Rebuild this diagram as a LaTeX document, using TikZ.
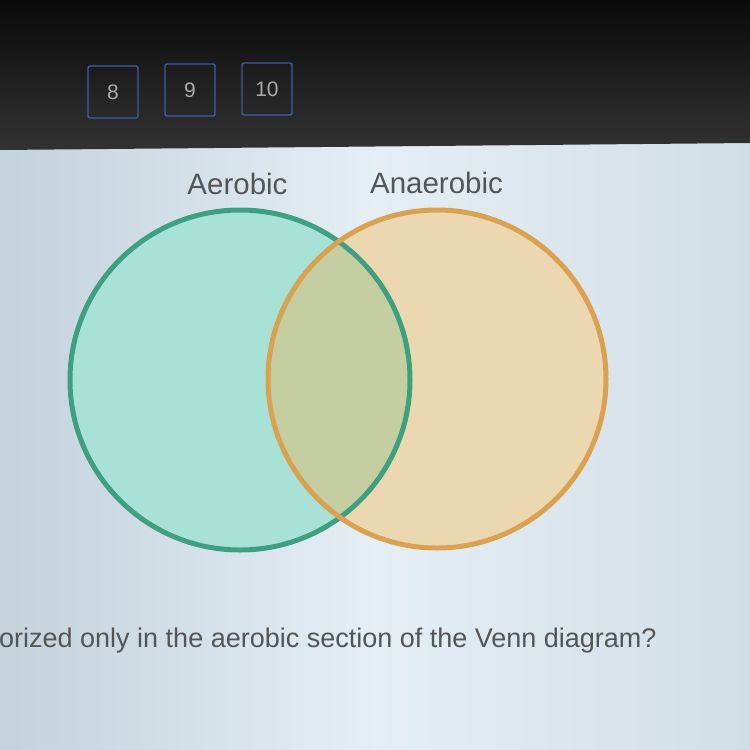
\documentclass[tikz,border=0pt]{standalone}
\usepackage{fontspec}
\setmainfont{Liberation Sans}
\definecolor{darktop}{RGB}{10,10,10}
\definecolor{darkbot}{RGB}{50,50,50}
\definecolor{bgleft}{RGB}{196,210,220}
\definecolor{bgmid}{RGB}{228,238,244}
\definecolor{bgright}{RGB}{210,222,230}
\definecolor{greenfill}{RGB}{168,226,214}
\definecolor{greenline}{RGB}{62,160,128}
\definecolor{orangefill}{RGB}{236,216,176}
\definecolor{orangeline}{RGB}{218,162,80}
\definecolor{overlapfill}{RGB}{196,206,160}
\definecolor{btnline}{RGB}{62,92,170}
\definecolor{btntext}{RGB}{170,170,170}
\definecolor{labeltext}{RGB}{85,85,85}
\tikzset{
  navbtn/.style={draw=btnline, line width=1.4pt, rounded corners=2pt, minimum width=50pt, minimum height=52pt, text=btntext, font=\fontsize{21}{24}\selectfont, inner sep=0pt},
  setlabel/.style={text=labeltext, font=\fontsize{29.5}{34}\selectfont, inner sep=0pt, anchor=base},
  question/.style={text=labeltext, font=\fontsize{27}{32}\selectfont, inner sep=0pt, anchor=base west}
}
\begin{document}
\begin{tikzpicture}[x=1pt,y=-1pt]
\useasboundingbox (0,0) rectangle (750,750);
% light background
\shade[left color=bgleft, right color=bgright, middle color=bgmid] (0,140) rectangle (750,750);
% dark band
\shade[top color=darktop, bottom color=darkbot] (0,0) -- (750,0) -- (750,143) -- (0,150) -- cycle;
% nav buttons
\node[navbtn] (b8) at (113,92) {8};
\node[navbtn] (b9) at (190,90) {9};
\node[navbtn] (b10) at (267,89) {10};
% circles
\coordinate (ca) at (240,380);
\coordinate (cb) at (437,379);
\fill[greenfill] (ca) circle (170);
\fill[orangefill] (cb) circle (169);
\begin{scope}
  \clip (ca) circle (170);
  \fill[overlapfill] (cb) circle (169);
\end{scope}
\draw[greenline, line width=5pt] (ca) circle (170);
\draw[orangeline, line width=5pt] (cb) circle (169);
% labels
\node[setlabel] (la) at (237.5,194) {Aerobic};
\node[setlabel] (lb) at (436.5,193) {Anaerobic};
% question
\node[question] (q) at (-1,647) {orized only in the aerobic section of the Venn diagram?};
\end{tikzpicture}
\end{document}
